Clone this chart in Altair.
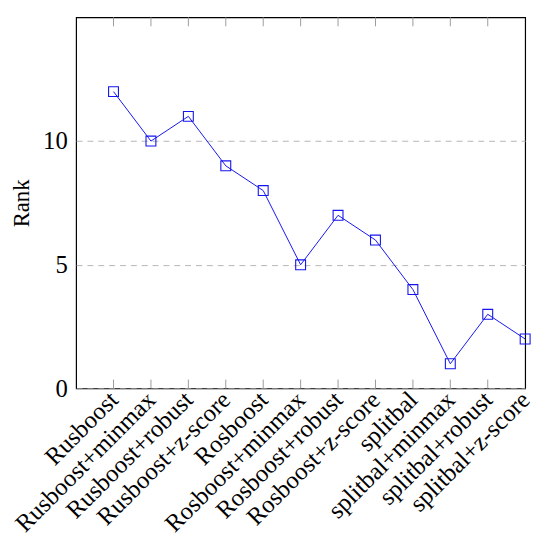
import altair as alt
import pandas as pd

methods = [
    "Rusboost", "Rusboost+minmax", "Rusboost+robust", "Rusboost+z-score",
    "Rosboost", "Rosboost+minmax", "Rosboost+robust", "Rosboost+z-score",
    "splitbal", "splitbal+minmax", "splitbal+robust", "splitbal+z-score",
]
ranks = [12, 10, 11, 9, 8, 5, 7, 6, 4, 1, 3, 2]
y_ticks = [0, 5, 10]

df = pd.DataFrame({"idx": list(range(len(methods))), "method": methods, "rank": ranks})

FONT = "Liberation Serif"
label_expr = "[" + ",".join("'%s'" % m for m in methods) + "][datum.value]"

x_enc = alt.X("idx:Q",
              scale=alt.Scale(domain=[-1, len(methods) - 1], nice=False, zero=False),
              axis=alt.Axis(values=list(range(len(methods))), labelExpr=label_expr,
                            labelAngle=315, labelAlign="right", labelBaseline="middle",
                            labelPadding=7, ticks=False, domain=False, grid=False,
                            labelFont=FONT, labelFontSize=25, labelColor="black",
                            labelLimit=400,
                            labelOverlap=False, labelBound=False, labelFlush=False),
              title=None)

y_enc = alt.Y("rank:Q",
              scale=alt.Scale(domain=[0, 15], nice=False),
              axis=alt.Axis(values=y_ticks, ticks=False, domain=False, grid=True,
                            gridDash=[6, 5], gridColor="#b5b5b5", gridWidth=1,
                            labelPadding=9, labelFont=FONT, labelFontSize=25,
                            labelColor="black", titleFont=FONT, titleFontSize=23,
                            titleFontWeight="normal", titleColor="black",
                            titlePadding=9),
              title="Rank")

line = alt.Chart(df).mark_line(
    color="#1515f0", strokeWidth=1,
    point=alt.OverlayMarkDef(shape="square", filled=False, size=100,
                             color="#1515f0", strokeWidth=1.1)
).encode(x=x_enc, y=y_enc)

tick_df = df[df["idx"] < len(methods) - 1]
top_ticks = alt.Chart(tick_df).mark_rule(color="#9a9a9a", strokeWidth=1).encode(
    x="idx:Q", y=alt.value(0), y2=alt.value(9))
bottom_ticks = alt.Chart(tick_df).mark_rule(color="#9a9a9a", strokeWidth=1).encode(
    x="idx:Q", y=alt.value(376), y2=alt.value(367))

chart = alt.layer(top_ticks, bottom_ticks, line).properties(
    width=455, height=376,
    autosize=alt.AutoSizeParams(type="none"),
    padding={"left": 69, "top": 6, "right": 12, "bottom": 150},
).configure_view(stroke="black", strokeWidth=1.2)

chart.save("out.html", embed_options={"renderer": "svg", "actions": False})
